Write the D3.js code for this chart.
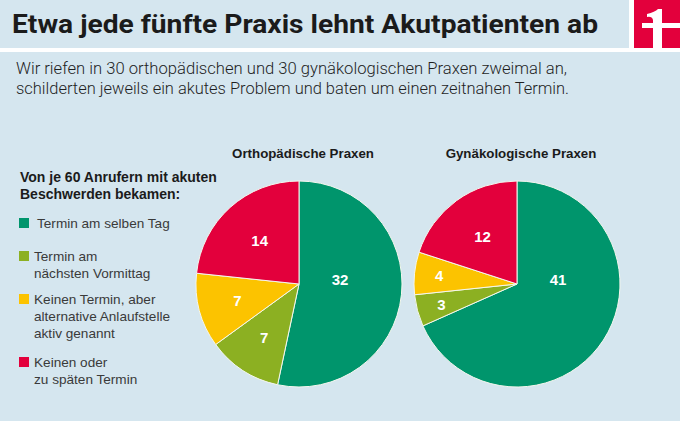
<!DOCTYPE html>
<html>
<head>
<meta charset="utf-8">
<script src="https://cdn.jsdelivr.net/npm/d3@7"></script>
<style>
  body { margin: 0; background: #d5e6ef; }
  svg { display: block; }
</style>
</head>
<body>
<div id="content"></div>
<script>
// data
var categories = ['Termin am selben Tag', 'Termin am nächsten Vormittag',
  'Keinen Termin, aber alternative Anlaufstelle aktiv genannt', 'Keinen oder zu späten Termin'];
var legendLines = [['Termin am selben Tag'], ['Termin am', 'nächsten Vormittag'],
  ['Keinen Termin, aber', 'alternative Anlaufstelle', 'aktiv genannt'], ['Keinen oder', 'zu späten Termin']];
var groups = ['Orthopädische Praxen', 'Gynäkologische Praxen'];
var orthoValues = [32, 7, 7, 14];
var gynValues = [41, 3, 4, 12];

var colorScale = ['#00956c', '#8cb022', '#fcc300', '#e3003c'];

var width = 680, height = 421;

var svg = d3.select('#content')
  .append('svg')
  .attr('width', width)
  .attr('height', height);

svg.append('rect')
  .attr('width', width)
  .attr('height', height)
  .attr('fill', '#d5e6ef');

// header
svg.append('text')
  .attr('x', 12)
  .attr('y', 33)
  .attr('textLength', 586)
  .attr('lengthAdjust', 'spacingAndGlyphs')
  .style('font-family', 'Roboto, "DejaVu Sans Condensed", sans-serif')
  .style('font-weight', 'bold')
  .style('font-size', '25.5px')
  .style('fill', '#1b1b1b')
  .text('Etwa jede fünfte Praxis lehnt Akutpatienten ab');

svg.append('rect')
  .attr('x', 0).attr('y', 48)
  .attr('width', width).attr('height', 4)
  .attr('fill', '#ffffff');
svg.append('rect')
  .attr('x', 629).attr('y', 0)
  .attr('width', 5).attr('height', 50)
  .attr('fill', '#ffffff');

// logo
var logo = svg.append('g');
logo.append('rect')
  .attr('x', 634).attr('y', 0)
  .attr('width', 46).attr('height', 48)
  .attr('fill', '#e3003c');
logo.append('rect')
  .attr('x', 642).attr('y', 23)
  .attr('width', 38).attr('height', 5)
  .attr('fill', '#ffffff');
logo.append('path')
  .attr('d', 'M653,48 L653,20 Q652,16 647,17 L647,14 Q655,12 658,9 L662,9 L662,48 Z')
  .attr('fill', '#ffffff');

var subtitle = ['Wir riefen in 30 orthopädischen und 30 gynäkologischen Praxen zweimal an,',
  'schilderten jeweils ein akutes Problem und baten um einen zeitnahen Termin.'];
var subLen = [551, 553];
svg.selectAll('.subtitle')
  .data(subtitle)
  .join('text')
  .attr('class', 'subtitle')
  .attr('x', 16)
  .attr('y', (d, i) => 74 + i * 20)
  .attr('textLength', (d, i) => subLen[i])
  .attr('lengthAdjust', 'spacingAndGlyphs')
  .style('font-family', 'Roboto, "DejaVu Sans Condensed", sans-serif')
  .style('font-weight', 300)
  .style('font-size', '17px')
  .style('fill', '#1f1f1f')
  .text(d => d);

// legend
var legend = svg.append('g')
  .style('font-family', 'Arial, "Liberation Sans", Helvetica, sans-serif');

legend.selectAll('.legendTitle')
  .data(['Von je 60 Anrufern mit akuten', 'Beschwerden bekamen:'])
  .join('text')
  .attr('x', 20)
  .attr('y', (d, i) => 182 + i * 16.5)
  .style('font-size', '14px')
  .style('font-weight', 'bold')
  .style('fill', '#1b1b1b')
  .text(d => d);

var itemTop = [218, 251, 294, 357];
legend.selectAll('.legendBox')
  .data(categories)
  .join('rect')
  .attr('x', 19)
  .attr('y', (d, i) => itemTop[i])
  .attr('width', 10)
  .attr('height', 10)
  .attr('fill', (d, i) => colorScale[i]);

legendLines.forEach(function (lines, i) {
  legend.selectAll('.legendText' + i)
    .data(lines)
    .join('text')
    .attr('x', i == 0 ? 37 : 34)
    .attr('y', (d, j) => itemTop[i] + 10 + j * 16.8)
    .style('font-size', '13.6px')
    .style('fill', '#3a3a3a')
    .text(d => d);
});

// pies
var radius = 103;
var centers = [{x: 299, y: 284}, {x: 517, y: 284}];
var pie = d3.pie().sort(null).value(d => d);
var arc = d3.arc().innerRadius(0).outerRadius(radius);

[orthoValues, gynValues].forEach(function (values, k) {
  var total = d3.sum(values);
  var g = svg.append('g')
    .attr('transform', 'translate(' + centers[k].x + ',' + centers[k].y + ')');

  g.append('text')
    .attr('x', 4)
    .attr('y', -126)
    .attr('text-anchor', 'middle')
    .style('font-family', 'Arial, "Liberation Sans", Helvetica, sans-serif')
    .style('font-size', '13.3px')
    .style('font-weight', 'bold')
    .style('fill', '#1b1b1b')
    .text(groups[k]);

  var arcs = pie(values);

  g.selectAll('.slice')
    .data(arcs)
    .join('path')
    .attr('class', 'slice')
    .attr('d', arc)
    .attr('fill', (d, i) => colorScale[i])
    .attr('stroke', '#f4f7ee')
    .attr('stroke-width', 1);

  g.selectAll('.label')
    .data(arcs)
    .join('text')
    .attr('class', 'label')
    .attr('transform', function (d) {
      var f = d.value / total;
      var r = f > 0.5 ? 0.4 * radius : f < 0.1 ? 0.76 * radius : f < 0.15 ? 0.62 * radius : 0.57 * radius;
      // the big slice keeps its label just above the horizontal axis
      var a = f > 0.5 ? Math.PI / 2 - 0.1 : (d.startAngle + d.endAngle) / 2;
      var c = [Math.sin(a) * r, -Math.cos(a) * r];
      return 'translate(' + c[0] + ',' + c[1] + ')';
    })
    .attr('text-anchor', 'middle')
    .attr('dy', '0.36em')
    .style('font-family', 'Arial, "Liberation Sans", Helvetica, sans-serif')
    .style('font-size', '15px')
    .style('font-weight', 'bold')
    .style('fill', '#ffffff')
    .text(d => d.value);
});
</script>
</body>
</html>
